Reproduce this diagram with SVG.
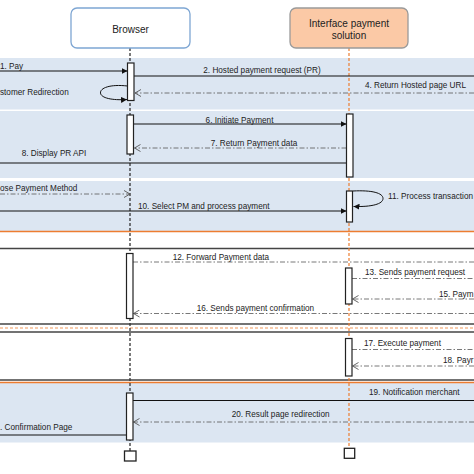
<svg xmlns="http://www.w3.org/2000/svg" width="474" height="474" viewBox="0 0 474 474">
<style>
.t{font-family:"Liberation Sans",Arial,sans-serif;font-size:8.2px;fill:#222}
.h{font-family:"Liberation Sans",Arial,sans-serif;font-size:10px;fill:#222;text-anchor:middle}
.band{fill:#dce6f2}
.s{stroke:#111;stroke-width:1;fill:none}
.d{stroke:#555;stroke-width:0.8;fill:none;stroke-dasharray:5 2 1.5 2}
.bar{fill:#fff;stroke:#222;stroke-width:1.2}
.sep{stroke:#444;stroke-width:1.6}
.or{stroke:#ed7d31;stroke-width:1.3}
</style>
<defs>
<marker id="fa" markerWidth="7" markerHeight="6" refX="6" refY="3" orient="auto" markerUnits="userSpaceOnUse"><path d="M0,0 L6,3 L0,6 z" fill="#111"/></marker>
<marker id="oa" markerWidth="7" markerHeight="8" refX="6" refY="4" orient="auto" markerUnits="userSpaceOnUse"><path d="M0,0.5 L6,4 L0,7.5" fill="none" stroke="#555" stroke-width="0.9"/></marker>
</defs>
<rect width="474" height="474" fill="#fff"/>
<g id="bands">
<rect class="band" x="0" y="58" width="474" height="51.5"/>
<rect class="band" x="0" y="111" width="474" height="67"/>
<rect class="band" x="0" y="181" width="474" height="50"/>
<rect class="band" x="0" y="383" width="474" height="59.5"/>
<line class="or" x1="0" y1="231.5" x2="474" y2="231.5"/>
<line class="sep" x1="0" y1="248.5" x2="474" y2="248.5"/>
<line class="sep" x1="0" y1="324" x2="474" y2="324"/>
<line x1="0" y1="328" x2="474" y2="328" stroke="#ed7d31" stroke-width="0.8" stroke-dasharray="3 2"/>
<line class="sep" x1="0" y1="332" x2="474" y2="332"/>
<line class="sep" x1="0" y1="380" x2="474" y2="380"/>
<line class="or" x1="0" y1="382.5" x2="474" y2="382.5"/>
</g>
<g id="lifelines">
<line x1="130" y1="48" x2="130" y2="451" stroke="#333" stroke-width="1.3" stroke-dasharray="3 2"/>
<line x1="349" y1="48" x2="349" y2="448" stroke="#ed7d31" stroke-width="1.2" stroke-dasharray="3 2"/>
</g>
<g id="browser">
<rect x="71" y="8" width="119" height="40" rx="6" fill="#fff" stroke="#7ea6d3" stroke-width="1.3"/>
<text class="h" x="130.5" y="32.5">Browser</text>
</g>
<g id="interface">
<rect x="290" y="8" width="118" height="40" rx="6" fill="#fbc9a6" stroke="#9a9a9a" stroke-width="1.3"/>
<text class="h" x="349" y="26.5">Interface payment</text>
<text class="h" x="349" y="39">solution</text>
</g>
<g id="connectors">
<line class="s" x1="0" y1="71" x2="127.5" y2="71" marker-end="url(#fa)"/>
<line class="s" x1="134" y1="76" x2="474" y2="76"/>
<line class="d" x1="474" y1="93" x2="135" y2="93" marker-end="url(#oa)"/>
<path class="s" d="M127.5,86 C110,84 100,88 100.5,93 C101,98 112,100.5 127,99.5" stroke="#444" marker-end="url(#fa)"/>
<line class="s" x1="134" y1="124" x2="346.5" y2="124" marker-end="url(#fa)"/>
<line class="d" x1="346.5" y1="148" x2="134.5" y2="148" marker-end="url(#oa)"/>
<line class="s" x1="346.5" y1="163" x2="0" y2="163"/>
<line class="d" x1="0" y1="194" x2="130" y2="194" marker-end="url(#oa)"/>
<line class="s" x1="0" y1="211" x2="346.5" y2="211" marker-end="url(#fa)"/>
<path class="s" d="M353,191 C372,190 383,193 383,198.5 C383,204 372,207 353.5,206.5" stroke="#444" marker-end="url(#fa)"/>
<line class="d" x1="133" y1="262" x2="474" y2="262"/>
<line class="d" x1="352" y1="278.5" x2="474" y2="278.5"/>
<line class="d" x1="474" y1="299" x2="352.5" y2="299" marker-end="url(#oa)"/>
<line class="d" x1="474" y1="313.5" x2="133.5" y2="313.5" marker-end="url(#oa)"/>
<line class="d" x1="352" y1="349.5" x2="474" y2="349.5"/>
<line class="d" x1="474" y1="366" x2="352.5" y2="366" marker-end="url(#oa)"/>
<line class="s" x1="133" y1="400.5" x2="474" y2="400.5"/>
<line class="d" x1="474" y1="422" x2="133.5" y2="422" marker-end="url(#oa)"/>
<line class="s" x1="126" y1="435" x2="0" y2="435"/>
</g>
<g id="activations">
<rect class="bar" x="127.5" y="63" width="6.5" height="37.5"/>
<rect class="bar" x="127" y="115" width="6.5" height="39"/>
<rect class="bar" x="346.5" y="114" width="6.5" height="63"/>
<rect class="bar" x="346.5" y="191" width="6" height="31"/>
<rect class="bar" x="126.5" y="253.5" width="6.5" height="65"/>
<rect class="bar" x="345.5" y="268" width="6.5" height="36"/>
<rect class="bar" x="345.5" y="338.5" width="6.5" height="37.5"/>
<rect class="bar" x="126.5" y="393" width="6.5" height="47"/>
<rect x="124.5" y="451" width="11.5" height="10" fill="#fff" stroke="#222" stroke-width="1.3"/>
<rect x="344.3" y="448.3" width="10.4" height="10" fill="#fff" stroke="#222" stroke-width="1.3"/>
</g>
<g id="labels">
<text class="t" x="0" y="69">1. Pay</text>
<text class="t" x="262" y="73" text-anchor="middle">2. Hosted payment request (PR)</text>
<text class="t" x="466" y="88" text-anchor="end">4. Return Hosted page URL</text>
<text class="t" x="0" y="95">stomer Redirection</text>
<text class="t" x="239.5" y="122.5" text-anchor="middle">6. Initiate Payment</text>
<text class="t" x="254" y="145.5" text-anchor="middle">7. Return Payment data</text>
<text class="t" x="21.7" y="156">8. Display PR API</text>
<text class="t" x="0" y="191">ose Payment Method</text>
<text class="t" x="138" y="209">10. Select PM and process payment</text>
<text class="t" x="388" y="199" textLength="85" lengthAdjust="spacingAndGlyphs">11. Process transaction</text>
<text class="t" x="172.7" y="259.5">12. Forward Payment data</text>
<text class="t" x="365" y="274.5">13. Sends payment request</text>
<text class="t" x="473.5" y="297" text-anchor="end">15. Paym</text>
<text class="t" x="196.7" y="311">16. Sends payment confirmation</text>
<text class="t" x="364" y="346">17. Execute payment</text>
<text class="t" x="473.5" y="363" text-anchor="end">18. Payr</text>
<text class="t" x="369" y="394.5">19. Notification merchant</text>
<text class="t" x="231.7" y="417">20. Result page redirection</text>
<text class="t" x="0" y="430">. Confirmation Page</text>
</g>
</svg>
